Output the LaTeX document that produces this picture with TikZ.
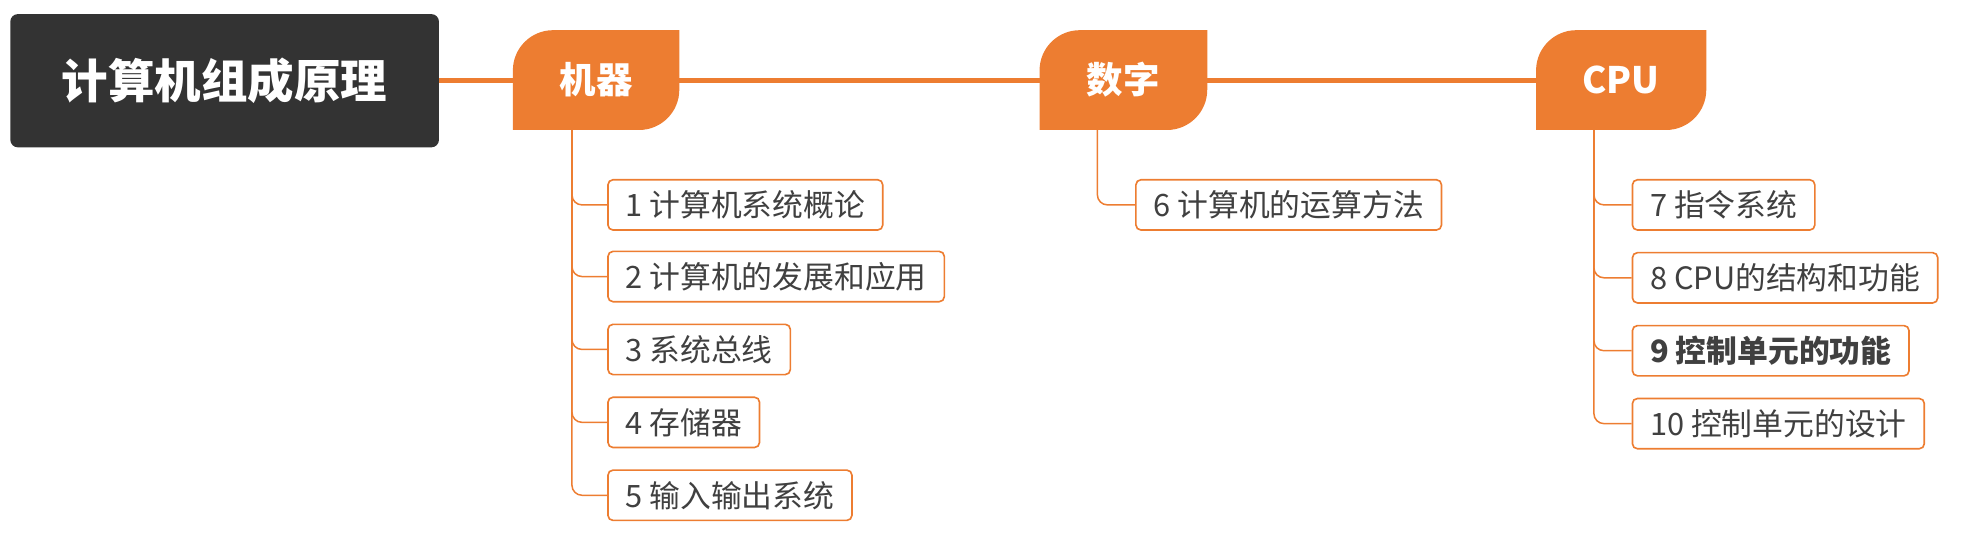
\documentclass[tikz,border=0pt]{standalone}
\usepackage{fontspec}
\setmainfont{Noto Sans CJK SC}
\usetikzlibrary{backgrounds}
\definecolor{org}{HTML}{ED7D31}
\definecolor{dk}{HTML}{333333}
\definecolor{tx}{HTML}{404040}
\begin{document}
\begin{tikzpicture}[x=1pt,y=-1pt,
 rootbox/.style={fill=dk,rounded corners=6pt,text=white,font=\fontsize{37}{40}\selectfont\bfseries,minimum width=341pt,minimum height=106pt,anchor=north west,inner sep=0pt},
 mainbox/.style={text=white,font=\fontsize{29}{31}\selectfont\bfseries,minimum height=79pt,anchor=north west,inner sep=0pt},
 childbox/.style={draw=org,line width=1.3pt,rounded corners=4pt,fill=white,text=tx,font=\fontsize{24.5}{26}\selectfont,minimum height=40pt,inner xsep=14pt,anchor=west},
 conn/.style={draw=org,line width=1.2pt,rounded corners=8pt},
 mainline/.style={draw=org,line width=4pt}]
\useasboundingbox (0,0) rectangle (1568,424);
\node[rootbox] (root) at (8,11) {计算机组成原理};
\node[mainbox,minimum width=132pt] (m1) at (408,24) {机器};
\node[mainbox,minimum width=133pt] (m2) at (827,24) {数字};
\node[mainbox,minimum width=135pt] (m3) at (1222,24) {CPU};
\begin{scope}[on background layer]
\foreach \m in {m1,m2,m3}{
 \fill[org] (\m.south west) [rounded corners=32pt] -- (\m.north west) [sharp corners] -- (\m.north east) [rounded corners=32pt] -- (\m.south east) [sharp corners] -- cycle;
}
\draw[mainline] (root.east |- 0,64) -- (m1.west |- 0,64);
\draw[mainline] (m1.east |- 0,64) -- (m2.west |- 0,64);
\draw[mainline] (m2.east |- 0,64) -- (m3.west |- 0,64);
\end{scope}
\node[childbox] (c1) at (483,163) {1 计算机系统概论};
\node[childbox] (c2) at (483,220) {2 计算机的发展和应用};
\node[childbox] (c3) at (483,278) {3 系统总线};
\node[childbox] (c4) at (483,336) {4 存储器};
\node[childbox] (c5) at (483,394) {5 输入输出系统};
\node[childbox] (c6) at (903,163) {6 计算机的运算方法};
\node[childbox] (c7) at (1298,163) {7 指令系统};
\node[childbox] (c8) at (1298,221) {8 CPU的结构和功能};
\node[childbox,font=\fontsize{24.5}{26}\selectfont\bfseries] (c9) at (1298,279) {9 控制单元的功能};
\node[childbox] (c10) at (1298,337) {10 控制单元的设计};
\begin{scope}[on background layer]
\foreach \c in {c1,c2,c3,c4,c5}{\draw[conn] (455,103) |- (\c.west);}
\draw[conn] (873,103) |- (c6.west);
\foreach \c in {c7,c8,c9,c10}{\draw[conn] (1268,103) |- (\c.west);}
\end{scope}
\end{tikzpicture}
\end{document}
